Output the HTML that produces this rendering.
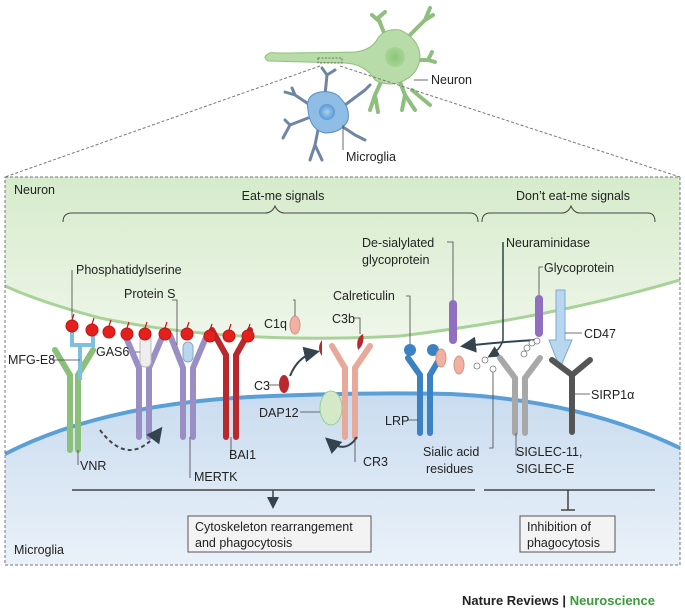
<!DOCTYPE html>
<html><head><meta charset="utf-8"><style>
body{margin:0;background:#fff}
svg{display:block;font-family:"Liberation Sans",sans-serif}
text{font-size:12.5px;fill:#222}
</style></head><body>
<svg width="685" height="613" viewBox="0 0 685 613" xmlns="http://www.w3.org/2000/svg">
<defs>
<linearGradient id="gg" x1="0" y1="0" x2="0" y2="1"><stop offset="0" stop-color="#d6ebcb"/><stop offset="1" stop-color="#eef6e9"/></linearGradient>
<linearGradient id="bg" x1="0" y1="0" x2="0" y2="1"><stop offset="0" stop-color="#c9dcef"/><stop offset="1" stop-color="#eaf1f9"/></linearGradient>
<radialGradient id="ng"><stop offset="0" stop-color="#8cc57c"/><stop offset="1" stop-color="#a6d495"/></radialGradient>
<radialGradient id="mg"><stop offset="0" stop-color="#a9d0f0"/><stop offset="1" stop-color="#5a9ad6"/></radialGradient>
<marker id="ah" markerWidth="8" markerHeight="8" refX="6" refY="4" orient="auto"><path d="M0,0 L8,4 L0,8 Z" fill="#33444f"/></marker>
</defs>

<!-- neuron -->
<g stroke="#8fbf7e" stroke-width="4" fill="none" stroke-linecap="round" stroke-linejoin="round">
<path d="M385,35 L378,18 L385,12 M380,22 L372,15"/>
<path d="M410,35 L425,20 L430,8 M425,20 L433,15"/>
<path d="M418,60 L428,60 L432,52 M428,60 L435,62"/>
<path d="M400,82 L405,95 L402,110 M405,95 L415,110 M412,90 L430,105"/>
<path d="M382,80 L375,95 L378,112 M375,95 L370,110"/>
</g>
<path d="M268,54 Q262,57 268,61 Q300,62 345,63 Q365,64 375,80 Q390,88 405,80 Q420,72 420,55 Q418,38 400,30 Q385,28 378,38 Q372,50 355,52 Q300,53 275,53 Q270,52 268,54 Z" fill="#b7dca7" stroke="#8fbf7e"/>
<circle cx="395" cy="57" r="10" fill="url(#ng)"/>
<!-- microglia -->
<g stroke="#6f86a3" stroke-width="3" fill="none" stroke-linecap="round" stroke-linejoin="round">
<path d="M325,95 L327,75 L322,68 M327,75 L335,70"/>
<path d="M345,105 L365,90 L370,85"/>
<path d="M310,105 L295,95 L285,92 M295,95 L292,88"/>
<path d="M308,118 L290,125 L283,138 M290,125 L285,120"/>
<path d="M318,130 L315,145 L310,160 M315,145 L322,160"/>
<path d="M340,125 L355,135 L365,140"/>
</g>
<path d="M308,110 Q305,95 320,92 Q335,90 342,100 Q350,108 348,120 Q342,133 325,133 Q310,130 308,110 Z" fill="#8fbde6" stroke="#5a8cc0"/>
<circle cx="327" cy="112" r="8" fill="url(#mg)"/>
<rect x="318" y="58" width="24" height="5" fill="none" stroke="#555" stroke-width="0.8" stroke-dasharray="2,1.5"/>
<line x1="320" y1="66" x2="5" y2="177" stroke="#777" stroke-dasharray="3,2"/>
<line x1="340" y1="66" x2="680" y2="177" stroke="#777" stroke-dasharray="3,2"/>
<path d="M414,80 H428" stroke="#444" stroke-width="0.8"/>
<text x="431" y="84">Neuron</text>
<path d="M343,125 V150" stroke="#444" stroke-width="0.8"/>
<text x="346" y="161">Microglia</text>

<!-- regions -->
<rect x="5" y="177" width="675" height="388" fill="#fff"/>
<path d="M5,177 H680 V280 Q550,318 400,336 Q230,345 100,318 Q40,302 5,286 Z" fill="url(#gg)"/>
<path d="M680,280 Q550,318 400,336 Q230,345 100,318 Q40,302 5,286" fill="none" stroke="#a8d398" stroke-width="3"/>
<path d="M5,454 Q100,405 250,397 Q350,392 450,394 Q580,400 680,448 V565 H5 Z" fill="url(#bg)"/>
<path d="M5,454 Q100,405 250,397 Q350,392 450,394 Q580,400 680,448" fill="none" stroke="#5a9fd6" stroke-width="4"/>
<rect x="5" y="177" width="675" height="388" fill="none" stroke="#777" stroke-dasharray="3,2"/>

<text x="14" y="194">Neuron</text>
<text x="14" y="554">Microglia</text>
<text x="283" y="200" text-anchor="middle">Eat-me signals</text>
<text x="573" y="200" text-anchor="middle">Don’t eat-me signals</text>
<path d="M63,222 Q63,213 72,213 H265 Q272,213 275,206 Q278,213 285,213 H470 Q478,213 478,222" fill="none" stroke="#444"/>
<path d="M482,222 Q482,213 490,213 H562 Q568,213 571,206 Q574,213 580,213 H648 Q655,213 655,222" fill="none" stroke="#444"/>

<g stroke="#8bc07a" stroke-width="6" fill="none" stroke-linecap="round">
<path d="M70,450 V375 L55,350"/><path d="M78,450 V375 L93,350"/></g>
<g stroke="#7fc0e0" stroke-width="4" fill="none"><path d="M72,330 V345 H93 V330 M80,345 V380"/></g>
<g stroke="#9a8fc4" stroke-width="6" fill="none" stroke-linecap="round">
<path d="M139,437 V368 L125,335"/><path d="M149,437 V368 L163,335"/>
<path d="M183,437 V368 L170,335"/><path d="M193,437 V368 L207,335"/></g>
<rect x="140" y="335" width="11" height="32" rx="5" fill="#eee" stroke="#bbb"/>
<rect x="183" y="342" width="10" height="20" rx="5" fill="#b9d6ef" stroke="#8ab"/>
<g stroke="#b8282d" stroke-width="6" fill="none" stroke-linecap="round">
<path d="M226,437 V355 L212,330"/><path d="M236,437 V355 L250,330"/></g>
<g fill="#e3201b" stroke="#c01515">
<circle cx="72" cy="326" r="6"/><circle cx="92" cy="330" r="6"/><circle cx="109" cy="332" r="6"/><circle cx="127" cy="334" r="6"/><circle cx="145" cy="334" r="6"/><circle cx="165" cy="334" r="6"/><circle cx="187" cy="334" r="6"/><circle cx="210" cy="336" r="6"/><circle cx="229" cy="336" r="6"/><circle cx="248" cy="336" r="6"/></g>
<g stroke="#c01515" stroke-width="1.2"><path d="M72,320 l2,-6 M92,324 l2,-6 M109,326 l2,-6 M127,328 l2,-6 M145,328 l2,-6 M165,328 l2,-6 M187,328 l2,-6 M210,330 l2,-6 M229,330 l2,-6 M248,330 l2,-6"/></g>
<path d="M52,360 H80 M72,270 V318 M135,352 H140 M172,300 H177 V345" stroke="#444" fill="none" stroke-width="0.8"/>
<text x="76" y="274">Phosphatidylserine</text>
<text x="124" y="298">Protein S</text>
<text x="8" y="364">MFG-E8</text>
<text x="96" y="356">GAS6</text>
<path d="M100,430 Q130,470 160,430" stroke="#444" stroke-width="2" stroke-dasharray="4,3" fill="none" marker-end="url(#ah)"/>
<path d="M78,450 V465 M190,437 V478 M231,437 V455" stroke="#444" stroke-width="0.8" fill="none"/>
<text x="80" y="470">VNR</text><text x="194" y="481">MERTK</text><text x="229" y="459">BAI1</text>

<ellipse cx="295" cy="325" rx="5" ry="9" fill="#f2b0a0" stroke="#c98"/>
<path d="M295,316 V300 H293" stroke="#444" stroke-width="0.8" fill="none"/>
<text x="264" y="328">C1q</text>
<ellipse cx="284" cy="384" rx="5" ry="9" fill="#b8282d"/>
<path d="M268,385 H279" stroke="#444" stroke-width="0.8"/>
<text x="254" y="390">C3</text>
<path d="M290,376 Q298,356 316,352" stroke="#33444f" stroke-width="2" fill="none" marker-end="url(#ah)"/>
<path d="M322,340 q-6,8 0,16 z" fill="#b8282d"/>
<g stroke="#e9a99a" stroke-width="6" fill="none" stroke-linecap="round">
<path d="M345,437 V368 L332,346"/><path d="M355,437 V368 L370,346"/></g>
<path d="M358,350 q-3,-12 5,-16 q2,10 -5,16 z" fill="#b8282d"/>
<path d="M360,334 V318 H354" stroke="#444" stroke-width="0.8" fill="none"/>
<text x="332" y="323">C3b</text>
<ellipse cx="331" cy="408" rx="11" ry="17" fill="#d4e9c8" stroke="#9c9"/>
<path d="M300,412 H320" stroke="#444" stroke-width="0.8"/>
<text x="259" y="417">DAP12</text>
<path d="M357,437 Q345,455 328,440" stroke="#33444f" stroke-width="2" fill="none" marker-end="url(#ah)"/>
<path d="M355,437 V462" stroke="#444" stroke-width="0.8"/>
<text x="363" y="466">CR3</text>

<g stroke="#3a82c4" stroke-width="6" fill="none" stroke-linecap="round">
<path d="M420,433 V375 L408,358"/><path d="M430,433 V375 L440,358"/></g>
<circle cx="410" cy="350" r="6" fill="#3a82c4"/><circle cx="433" cy="350" r="6" fill="#3a82c4"/>
<ellipse cx="441" cy="358" rx="5" ry="9" fill="#f2b0a0" stroke="#c98"/>
<ellipse cx="459" cy="365" rx="5" ry="9" fill="#f2b0a0" stroke="#c98"/>
<path d="M410,344 V296 H406 M453,300 V242 H447 M407,420 H418" stroke="#444" stroke-width="0.8" fill="none"/>
<text x="333" y="300">Calreticulin</text>
<text x="362" y="247">De-sialylated</text>
<text x="362" y="264">glycoprotein</text>
<text x="385" y="425">LRP</text>
<rect x="449" y="300" width="8" height="44" rx="4" fill="#8f6fc0"/>
<path d="M535,340 Q500,342 464,346" stroke="#33444f" stroke-width="2" fill="none" marker-end="url(#ah)"/>
<path d="M503,242 V340 Q500,350 490,356" stroke="#33444f" stroke-width="1.5" fill="none" marker-end="url(#ah)"/>
<g fill="#fff" stroke="#777" stroke-width="0.8">
<circle cx="477" cy="366" r="3"/><circle cx="485" cy="360" r="3"/><circle cx="493" cy="369" r="3"/>
<circle cx="524" cy="354" r="3"/><circle cx="527" cy="348" r="3"/><circle cx="532" cy="343" r="3"/><circle cx="537" cy="341" r="3"/></g>
<path d="M493,372 V448 H489" stroke="#444" stroke-width="0.8" fill="none"/>
<text x="423" y="456">Sialic acid</text><text x="426" y="473">residues</text>
<text x="506" y="247">Neuraminidase</text>
<g stroke="#a8a8a8" stroke-width="6" fill="none" stroke-linecap="round">
<path d="M515,433 V378 L500,358"/><path d="M525,433 V378 L540,358"/></g>
<path d="M516,433 V455 H521" stroke="#444" stroke-width="0.8" fill="none"/>
<text x="516" y="456">SIGLEC-11,</text><text x="516" y="473">SIGLEC-E</text>
<rect x="535" y="295" width="8" height="42" rx="4" fill="#8f6fc0"/>
<path d="M539,295 V267 H543" stroke="#444" stroke-width="0.8" fill="none"/>
<text x="544" y="272">Glycoprotein</text>
<path d="M556,290 H565 V340 H572 L560,368 L549,340 H556 Z" fill="#b9d6ef" stroke="#7fa9cf"/>
<g stroke="#555" stroke-width="6" fill="none" stroke-linejoin="round" stroke-linecap="round">
<path d="M552,360 L572,375 L590,360 M572,375 V432"/></g>
<path d="M565,333 H582 M575,394 H590" stroke="#444" stroke-width="0.8"/>
<text x="584" y="338">CD47</text>
<text x="591" y="399">SIRP1α</text>

<path d="M72,490 H475 M484,490 H655" stroke="#444" stroke-width="1.5"/>
<path d="M273,490 V506" stroke="#444" stroke-width="1.5" marker-end="url(#ah)"/>
<path d="M568,490 V510 M561,510 H575" stroke="#444" stroke-width="1.5"/>
<rect x="188" y="516" width="183" height="36" fill="#f3f3f3" stroke="#555"/>
<text x="195" y="531">Cytoskeleton rearrangement</text>
<text x="195" y="547">and phagocytosis</text>
<rect x="520" y="516" width="95" height="36" fill="#f3f3f3" stroke="#555"/>
<text x="527" y="531">Inhibition of</text>
<text x="527" y="547">phagocytosis</text>

<text x="462" y="605" style="font-weight:bold;font-size:13px">Nature Reviews | <tspan fill="#3a9a3a">Neuroscience</tspan></text>
</svg>
</body></html>
